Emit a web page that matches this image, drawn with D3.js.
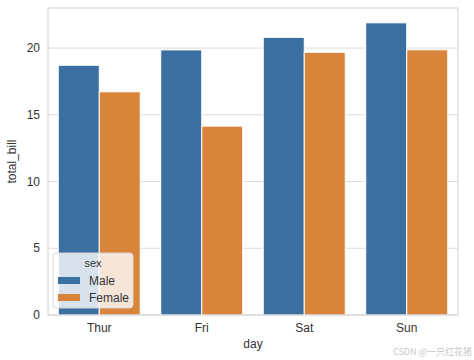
<!DOCTYPE html>
<html><head><meta charset="utf-8">
<script src="https://cdn.jsdelivr.net/npm/d3@7"></script>
<style>body{margin:0;background:#fff}svg{display:block;font-family:"Liberation Sans",Arial,sans-serif}</style>
</head><body><svg id="c" width="474" height="360"></svg>
<script>
const days = ["Thur","Fri","Sat","Sun"];
const sexes = ["Male","Female"];
const maleValues = [18.71, 19.86, 20.80, 21.89];
const femaleValues = [16.72, 14.15, 19.68, 19.87];
const yTicks = [0,5,10,15,20];
const colors = ["#3a6f9f","#d8843b"];

const svg = d3.select("#c");
const m = {l:48, r:16, t:8, b:45};
const W = 474, H = 360;
const x = d3.scaleBand().domain(days).range([m.l, W-m.r]);
const x1 = d3.scaleBand().domain(sexes).range([0, x.bandwidth()*0.8]);
const y = d3.scaleLinear().domain([0,23]).range([H-m.b, m.t]);

// grid
svg.append("g").selectAll("line").data(yTicks).join("line")
  .attr("x1", m.l).attr("x2", W-m.r).attr("y1", d=>y(d)).attr("y2", d=>y(d))
  .attr("stroke","#dcdcdc").attr("stroke-width",1);

const data = [];
days.forEach((d,i)=>{ data.push({day:d, sex:"Male", v:maleValues[i]}); data.push({day:d, sex:"Female", v:femaleValues[i]}); });
svg.append("g").selectAll("rect").data(data).join("rect")
  .attr("x", d=>x(d.day)+x.bandwidth()*0.1+x1(d.sex))
  .attr("width", x1.bandwidth())
  .attr("y", d=>y(d.v)).attr("height", d=>y(0)-y(d.v))
  .attr("fill", d=>colors[sexes.indexOf(d.sex)])
  .attr("stroke","#fff").attr("stroke-width",1);

// frame
svg.append("rect").attr("x",m.l).attr("y",m.t).attr("width",W-m.r-m.l).attr("height",H-m.b-m.t)
  .attr("fill","none").attr("stroke","#d0d0d0").attr("stroke-width",1);

// y ticks
svg.append("g").selectAll("text").data(yTicks).join("text")
  .attr("x", m.l-8).attr("y", d=>y(d)).attr("dy","0.35em").attr("text-anchor","end")
  .attr("font-size",12).attr("fill","#333").text(d=>d);
// x ticks
svg.append("g").selectAll("text").data(days).join("text")
  .attr("x", d=>x(d)+x.bandwidth()/2).attr("y", H-m.b+17).attr("text-anchor","middle")
  .attr("font-size",12).attr("fill","#333").text(d=>d);

svg.append("text").attr("x", (m.l+W-m.r)/2).attr("y", 348).attr("text-anchor","middle")
  .attr("font-size",12).attr("fill","#333").text("day");
svg.append("text").attr("transform",`translate(16,${(m.t+H-m.b)/2}) rotate(-90)`).attr("text-anchor","middle")
  .attr("font-size",12).attr("fill","#333").text("total_bill");

// legend
const lg = svg.append("g");
lg.append("rect").attr("x",53).attr("y",253).attr("width",80).attr("height",55).attr("rx",3)
  .attr("fill","rgba(255,255,255,0.8)").attr("stroke","#d8d8d8");
lg.append("text").attr("x",93).attr("y",267).attr("text-anchor","middle").attr("font-size",11).attr("fill","#333").text("sex");
sexes.forEach((s,i)=>{
  lg.append("rect").attr("x",58).attr("y",277+i*17).attr("width",22).attr("height",7).attr("fill",colors[i]);
  lg.append("text").attr("x",89).attr("y",281+i*17).attr("dy","0.35em").attr("font-size",12).attr("fill","#333").text(s);
});

svg.append("text").attr("x",472).attr("y",355).attr("text-anchor","end").attr("font-size",9)
  .attr("fill","#c8c8c8").attr("font-family","'Noto Sans CJK SC',sans-serif").text("CSDN @一只红花猪");
</script></body></html>
